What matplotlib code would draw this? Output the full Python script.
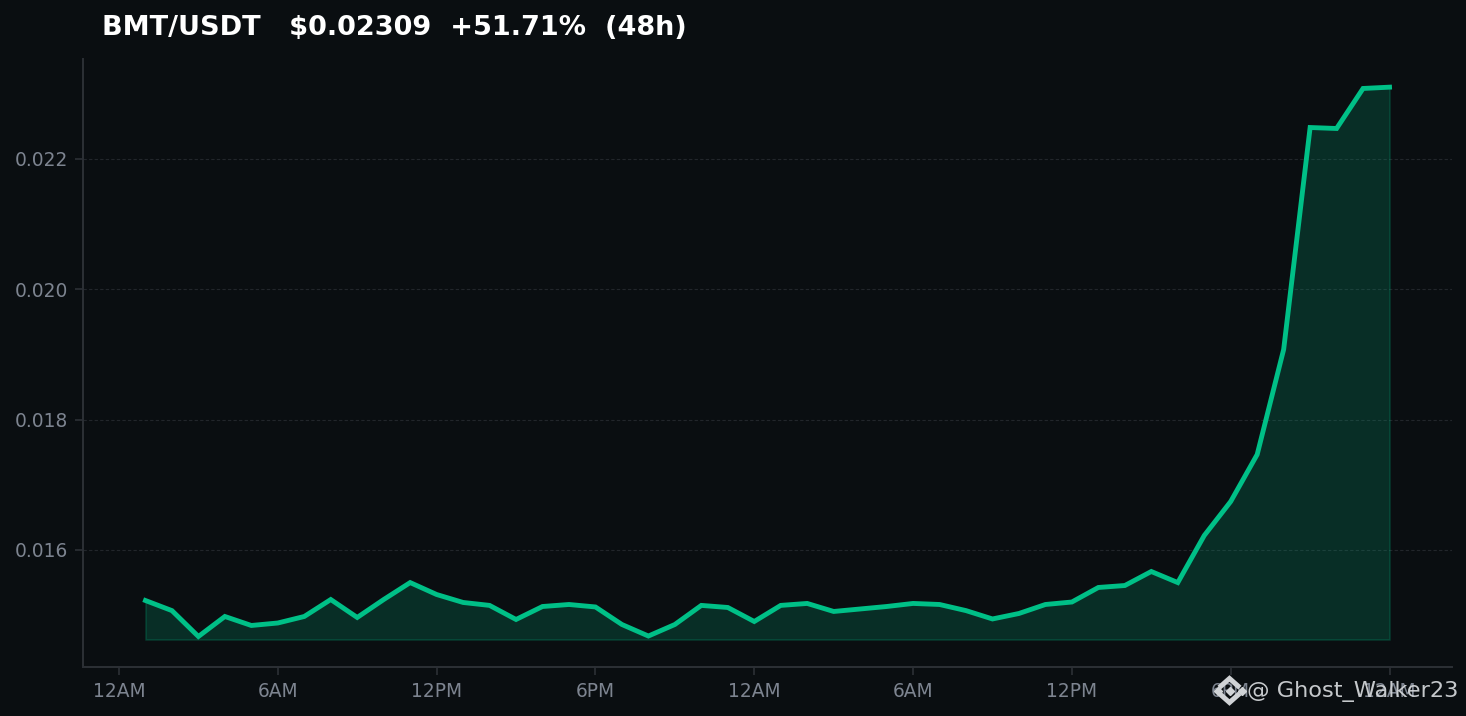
import matplotlib
matplotlib.use("Agg")
import matplotlib.pyplot as plt
from matplotlib.lines import Line2D

hours = list(range(1, 49))
prices = [0.015225, 0.01507, 0.014673, 0.01498, 0.014842, 0.01488, 0.01498, 0.01524,
          0.014965, 0.01524, 0.0155, 0.015317, 0.015195, 0.01515, 0.014934, 0.015133,
          0.015164, 0.015126, 0.014857, 0.01468, 0.014857, 0.01515, 0.015118, 0.014903,
          0.01515, 0.01518, 0.015057, 0.015095, 0.015133, 0.01518, 0.015164, 0.01507,
          0.014942, 0.015026, 0.015164, 0.015202, 0.015425, 0.015455, 0.01567, 0.0155,
          0.016222, 0.016744, 0.017465, 0.019076, 0.022481, 0.022466, 0.02308, 0.02310]
fill_base = 0.014627
x_ticks = [0, 6, 12, 18, 24, 30, 36, 42, 48]
x_labels = ["12AM", "6AM", "12PM", "6PM", "12AM", "6AM", "12PM", "6PM", "12AM"]
y_ticks = [0.016, 0.018, 0.020, 0.022]
title = "BMT/USDT   $0.02309  +51.71%  (48h)"
watermark = "@ Ghost_Walker23"

BG = "#0a0e11"
GREEN = "#00c087"
SPINE = "#2c3036"
TICK = "#7d8490"

W, H = 1466, 716
fig = plt.figure(figsize=(W / 100, H / 100), dpi=100, facecolor=BG)
ax = fig.add_axes([83 / W, 1 - 667 / H, (1452 - 83) / W, (667 - 59) / H], facecolor=BG)

ax.fill_between(hours, prices, fill_base, color=GREEN, alpha=0.18, linewidth=1.4)
ax.plot(hours, prices, color=GREEN, linewidth=3.5, solid_joinstyle="miter", zorder=3)

ax.set_xlim(-1.36, 50.36)
ax.set_ylim(0.014205, 0.023532)
ax.set_xticks(x_ticks)
ax.set_xticklabels(x_labels)
ax.set_yticks(y_ticks)
ax.set_yticklabels([f"{v:.3f}" for v in y_ticks])
ax.tick_params(colors=TICK, labelsize=13.4, color=SPINE, length=6, width=1.2, pad=5)
ax.tick_params(axis="y", pad=4.7)
ax.grid(axis="y", color="#22262b", linewidth=0.8, linestyle=(0, (3, 2)))
ax.set_axisbelow(True)
for side in ("top", "right"):
    ax.spines[side].set_visible(False)
for side in ("left", "bottom"):
    ax.spines[side].set_color(SPINE)
    ax.spines[side].set_linewidth(1.4)

fig.text(101.5 / W, 1 - 28 / H, title, color="white", fontsize=19.5, fontweight="bold",
         va="center", ha="left")

WM = "#d0d3d6"
fig.text(1458 / W, 1 - 691 / H, watermark, color=WM, fontsize=16.2, alpha=0.95,
         va="center", ha="right", zorder=10)


def px_line(xs, ys, **kw):
    fig.add_artist(Line2D([x / W for x in xs], [1 - y / H for y in ys],
                          transform=fig.transFigure, color=WM, zorder=10, **kw))


px_line([1221, 1229.5, 1238], [686, 678.5, 686], linewidth=3.6, solid_joinstyle="miter")
px_line([1221, 1229.5, 1238], [695, 702.5, 695], linewidth=3.6, solid_joinstyle="miter")
px_line([1217.5, 1229.5, 1241.5], [690.5] * 3, marker="D", markersize=4, linestyle="none")

fig.savefig("out.png", dpi=100, facecolor=BG)
